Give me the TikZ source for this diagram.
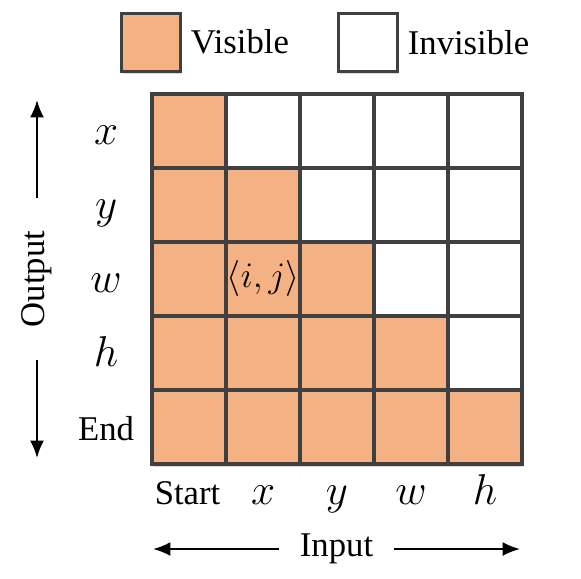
\documentclass[tikz,border=0pt]{standalone}
\usepackage{fontspec}
\setmainfont{Liberation Serif}
\usetikzlibrary{arrows.meta,positioning,shadows}
\definecolor{visfill}{HTML}{F4B183}
\definecolor{gridline}{HTML}{404040}

\begin{document}
\begin{tikzpicture}[x=1.5cm, y=1.5cm,
  cellbox/.style={draw=gridline, line width=1.8pt, minimum size=1.5cm, inner sep=0pt, outer sep=0pt},
  softshadow/.style={drop shadow={opacity=0.3, shadow xshift=0.6pt, shadow yshift=-1.6pt}},
  keybox/.style={cellbox, minimum size=1.18cm, softshadow},
  label/.style={font=\fontsize{20}{24}\selectfont, inner sep=0pt},
  mathlabel/.style={font=\fontsize{24}{28}\selectfont, inner sep=0pt},
  axis/.style={line width=1.2pt, {Latex[length=10pt,width=8pt]}-{Latex[length=10pt,width=8pt]}}
]
\useasboundingbox (-2.054,-1.554) rectangle (5.797,6.270);

% legend
\node[keybox, fill=visfill] (vis) at (-0.014,5.70) {};
\node[label, right=6pt of vis] (vistext) {Visible};
\node[keybox, fill=white] (invis) at (2.919,5.70) {};
\node[label, right=6pt of invis] (invistext) {Invisible};

% mask grid
\fill[white, softshadow] (0,0) rectangle (5,5);
\foreach \r in {1,...,5}
  \foreach \c in {1,...,5} {
    \ifnum\c>\r \def\cellcol{white}\else\def\cellcol{visfill}\fi
    \node[cellbox, fill=\cellcol] (c\r\c) at (\c-0.5,5.5-\r) {};
  }
\node[font=\fontsize{20}{24}\selectfont, inner sep=0pt] (ij) at (c32) {$\langle i,j\rangle$};

% output side
\foreach \t [count=\r] in {x,y,w,h}
  \node[mathlabel, anchor=base] (rl\r) at (-0.62,5.324-\r) {$\t$};
\node[label, anchor=base] (rl5) at (-0.62,0.324) {End};

% input side
\node[label, anchor=base] (cl1) at (0.48,-0.554) {Start};
\foreach \t [count=\c from 2] in {x,y,w,h}
  \node[mathlabel, anchor=base] (cl\c) at (\c-0.5,-0.554) {$\t$};

\coordinate (otop) at (-1.554,4.919);
\coordinate (obot) at (-1.554,0.081);
\draw[axis] (obot) -- node[label, fill=white, rotate=90, inner xsep=19pt, inner ysep=3pt] (outlbl) {Output} (otop);
\coordinate (ileft) at (0.014,-1.149);
\coordinate (iright) at (4.973,-1.149);
\draw[axis] (ileft) -- node[label, fill=white, inner xsep=12pt, inner ysep=3pt] (inlbl) {Input} (iright);
\end{tikzpicture}
\end{document}
